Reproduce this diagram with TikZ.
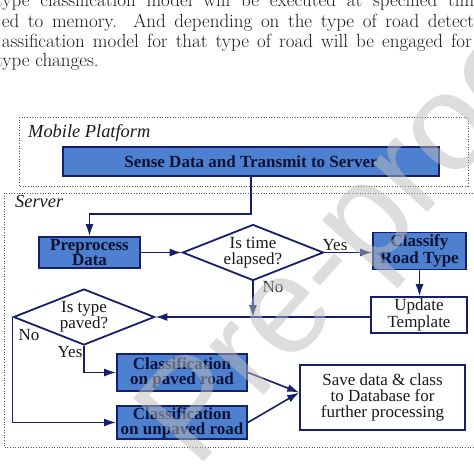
\documentclass[tikz,border=0pt]{standalone}
\usepackage{fontspec}
\newfontfamily\tms{Liberation Serif}
\newfontfamily\wmfont{Liberation Sans}
\usetikzlibrary{shapes.geometric,arrows.meta,calc}
\definecolor{navy}{HTML}{14206E}
\definecolor{boxblue}{HTML}{4D80CF}
\definecolor{boxtext}{HTML}{0B1235}
\definecolor{ink}{HTML}{1A1A1A}
\definecolor{dotgray}{HTML}{555555}
\definecolor{wmgray}{HTML}{BDBDBD}
\begin{document}
\begin{tikzpicture}[x=1pt,y=-1pt,
  bluebox/.style={draw=navy, line width=1.8pt, fill=boxblue, align=center, inner sep=0pt, text=boxtext, font=\tms\bfseries\fontsize{17}{15}\selectfont},
  whitebox/.style={draw=navy, line width=1.6pt, fill=white, align=center, inner sep=0pt, text=ink, font=\tms\fontsize{17}{16.2}\selectfont},
  decision/.style={diamond, shape aspect=2.5, draw=navy, line width=1.8pt, fill=white, align=center, inner sep=0pt, minimum width=141pt, minimum height=56pt, text=ink, font=\tms\fontsize{17}{15.7}\selectfont},
  flow/.style={draw=navy, line width=1.6pt, -{Latex[length=12pt,width=8pt]}},
  lbl/.style={text=ink, inner sep=0pt, font=\tms\fontsize{17}{17}\selectfont},
  region/.style={draw=dotgray, line width=0.8pt, dash pattern=on 1pt off 1.6pt},
  regionlbl/.style={anchor=base west, inner sep=0pt, text=ink, font=\tms\itshape\fontsize{18.4}{19}\selectfont},
  paraline/.style={anchor=base west, inner sep=0pt, text=ink, font=\fontsize{19}{19.7}\selectfont}
]
\useasboundingbox (0,0) rectangle (474,474);
\clip (0,0) rectangle (474,474);
\fill[white] (0,0) rectangle (474,474);

% paragraph above the figure
\node[paraline] (p1) at (-4,6.5) {\hbox to 478pt{type classification model will be executed at specified tim}e};
\node[paraline] (p2) at (1.7,27.3) {\hbox to 472.3pt{ed to memory. And depending on the type of road detect}ed};
\node[paraline] (p3) at (1.7,47.3) {\hbox to 470pt{assification model for that type of road will be engaged for}};
\node[paraline] (p4) at (-4,66.7) {type changes.};

% regions
\draw[region] (19,117) rectangle (468,186);
\draw[region] (4,193) rectangle (490,447);
\node[regionlbl] (mplbl) at (28,137) {Mobile Platform};
\node[regionlbl] (srvlbl) at (15,207) {Server};

% nodes
\node[bluebox, minimum width=376pt, minimum height=29pt] (sense) at (251,161.5) {Sense Data and Transmit to Server};
\node[bluebox, minimum width=101pt, minimum height=31pt] (pre) at (89.5,252.5) {Preprocess\\Data};
\node[decision] (time) at (253,252.5) {Is time\\elapsed?};
\node[bluebox, minimum width=93pt, minimum height=37pt] (cls) at (419.5,251) {Classify\\Road Type};
\node[whitebox, minimum width=96pt, minimum height=36pt] (upd) at (419,315) {Update\\Template};
\node[decision] (paved) at (84,317) {Is type\\paved?};
\node[bluebox, minimum width=130pt, minimum height=37pt] (cpav) at (182,372.5) {Classification\\on paved road};
\node[bluebox, minimum width=130pt, minimum height=33pt] (cunp) at (182,422.5) {Classification\\on unpaved road};
\node[whitebox, minimum width=165pt, minimum height=65pt] (save) at (382.5,397.5) {Save data \& class\\to Database for\\further processing};

% labels
\node[lbl] (yes1) at (335,245) {Yes};
\node[lbl] (no1) at (273,287) {No};
\node[lbl] (no2) at (29,335) {No};
\node[lbl] (yes2) at (70,352) {Yes};

% connectors
\draw[flow] (sense.south) -- ++(0,37) -| (pre.north);
\draw[flow] (pre.east) -- (time.west);
\draw[flow] (time.east) -- (time.east -| cls.west);
\draw[flow] (cls.south) -- (cls.south |- upd.north);
\coordinate (join) at (time.south |- paved.east);
\draw[flow] (time.south) -- (join);
\draw[flow] (paved.east -| upd.west) -- (paved.east);
\draw[flow] (paved.south) |- (cpav.west);
\draw[flow] (paved.west) |- (cunp.west);
\coordinate (savein) at ($(save.west)+(0,-5)$);
\draw[flow] (cpav.east) -- (savein);
\draw[flow] (cunp.east) -- (savein);

% watermark
\node[rotate=48, text=wmgray, text opacity=0.5, inner sep=0pt, font=\wmfont\fontsize{138}{138}\selectfont] (wm) at (362,233) {Pre-proof};
\end{tikzpicture}
\end{document}
